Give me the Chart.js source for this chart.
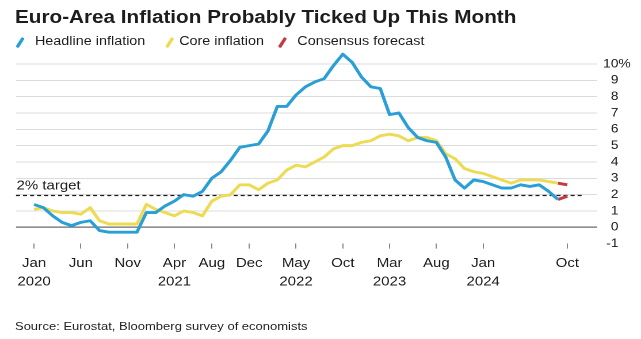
<!DOCTYPE html>
<html>
<head>
<meta charset="utf-8">
<script src="https://cdn.jsdelivr.net/npm/chart.js@4.4.1/dist/chart.umd.min.js"></script>
<style>
  html, body { margin: 0; padding: 0; background: #fff; overflow: hidden; }
  #wrap { position: absolute; left: 0; top: 0; width: 557px; height: 339px; transform: scaleX(1.1508); transform-origin: 0 0; font-family: "Liberation Sans", Arial, sans-serif; color: #1c1c1c; }
  #title { position: absolute; left: 13px; top: 7.5px; font-size: 18px; line-height: 18px; font-weight: bold; white-space: nowrap; }
  .lg { position: absolute; top: 35.4px; font-size: 12.5px; line-height: 12.5px; white-space: nowrap; }
  .ic { position: absolute; top: 36.5px; width: 2.7px; height: 11px; transform: rotate(29deg); border-radius: 1px; }
  #src { position: absolute; left: 13px; top: 321px; font-size: 11.3px; line-height: 11.3px; white-space: nowrap; color: #222; }
  #c { position: absolute; left: 0; top: 0; width: 557px; height: 339px; }
</style>
</head>
<body>
<div id="wrap">
  <canvas id="c" width="557" height="339"></canvas>
  <div id="title">Euro-Area Inflation Probably Ticked Up This Month</div>
  <div class="ic" style="left:15.8px;background:#2a9fd6"></div>
  <div class="lg" style="left:30.4px">Headline inflation</div>
  <div class="ic" style="left:145.5px;background:#eedb55"></div>
  <div class="lg" style="left:155.7px">Core inflation</div>
  <div class="ic" style="left:244.3px;background:#c23b45"></div>
  <div class="lg" style="left:258.3px">Consensus forecast</div>
  <div id="src">Source: Eurostat, Bloomberg survey of economists</div>
</div>
<script>
// month index 0 = Jan 2020
const TICK_IDX = [0, 5, 10, 15, 19, 23, 28, 33, 38, 43, 48, 57];
const TICK_LABELS = [['Jan', '2020'], 'Jun', 'Nov', ['Apr', '2021'], 'Aug', 'Dec', ['May', '2022'], 'Oct', ['Mar', '2023'], 'Aug', ['Jan', '2024'], 'Oct'];
const Y_TICKS = [-1, 0, 1, 2, 3, 4, 5, 6, 7, 8, 9, 10];
const TARGET = 2;

const HEADLINE = [
  1.4, 1.2, 0.7, 0.3, 0.1, 0.3, 0.4, -0.2, -0.3, -0.3, -0.3, -0.3,
  0.9, 0.9, 1.3, 1.6, 2.0, 1.9, 2.2, 3.0, 3.4, 4.1, 4.9, 5.0,
  5.1, 5.9, 7.4, 7.4, 8.1, 8.6, 8.9, 9.1, 9.9, 10.6, 10.1, 9.2,
  8.6, 8.5, 6.9, 7.0, 6.1, 5.5, 5.3, 5.2, 4.3, 2.9, 2.4, 2.9,
  2.8, 2.6, 2.4, 2.4, 2.6, 2.5, 2.6, 2.2, 1.7];
const CORE = [
  1.1, 1.2, 1.0, 0.9, 0.9, 0.8, 1.2, 0.4, 0.2, 0.2, 0.2, 0.2,
  1.4, 1.1, 0.9, 0.7, 1.0, 0.9, 0.7, 1.6, 1.9, 2.0, 2.6, 2.6,
  2.3, 2.7, 2.9, 3.5, 3.8, 3.7, 4.0, 4.3, 4.8, 5.0, 5.0, 5.2,
  5.3, 5.6, 5.7, 5.6, 5.3, 5.5, 5.5, 5.3, 4.5, 4.2, 3.6, 3.4,
  3.3, 3.1, 2.9, 2.7, 2.9, 2.9, 2.9, 2.8, 2.7];
// Sep 2024 actual -> Oct 2024 consensus
const FC_IDX = [56, 57];
const FC_HEADLINE = [1.7, 1.9];
const FC_CORE = [2.7, 2.6];

const FONT = '"Liberation Sans", Arial, sans-serif';
const pts = (vals, start = 0) => vals.map((v, i) => ({ x: start + i, y: v }));
const line = (data, color) => ({ data, borderColor: color, borderWidth: 2.9, pointRadius: 0, tension: 0, borderJoinStyle: 'round', borderCapStyle: 'butt', clip: false });

const extras = {
  id: 'extras',
  beforeDatasetsDraw(chart) {
    const { ctx, chartArea: a, scales: { y } } = chart;
    const py = Math.round(y.getPixelForValue(TARGET)) + 0.5;
    ctx.save();
    ctx.strokeStyle = '#1c1c1c';
    ctx.lineWidth = 1.3;
    ctx.setLineDash([3.5, 2.6]);
    ctx.beginPath(); ctx.moveTo(a.left, py); ctx.lineTo(a.right - 12, py); ctx.stroke();
    ctx.setLineDash([]);
    ctx.fillStyle = '#1c1c1c';
    ctx.font = '13px ' + FONT;
    ctx.textBaseline = 'alphabetic';
    ctx.fillText(TARGET + '% target', a.left + 0.5, py - 6);
    ctx.restore();
  },
  afterDraw(chart) {
    const { ctx, scales: { y } } = chart;
    ctx.save();
    ctx.font = '12px ' + FONT;
    ctx.fillStyle = '#1c1c1c';
    ctx.textBaseline = 'middle';
    ctx.fillText('%', y.right, y.getPixelForValue(Y_TICKS[Y_TICKS.length - 1]));
    ctx.restore();
  }
};

new Chart(document.getElementById('c'), {
  type: 'line',
  data: {
    datasets: [
      line(pts(HEADLINE), '#2a9fd6'),
      line(pts(CORE), '#eedb55'),
      line(FC_IDX.map((x, i) => ({ x, y: FC_HEADLINE[i] })), '#c23b45'),
      line(FC_IDX.map((x, i) => ({ x, y: FC_CORE[i] })), '#c23b45'),
    ],
  },
  options: {
    responsive: false,
    animation: false,
    devicePixelRatio: 2,
    layout: { padding: { left: 13.9, top: 64, right: 19.6, bottom: 45.4 } },
    plugins: { legend: { display: false }, tooltip: { enabled: false } },
    scales: {
      x: {
        type: 'linear', min: -1.93, max: 60.2,
        afterBuildTicks: (s) => { s.ticks = TICK_IDX.map((v) => ({ value: v })); },
        afterFit: (s) => { s.height = 50; },
        ticks: { autoSkip: false, maxRotation: 0, padding: 5.3, color: '#1c1c1c', font: { family: FONT, size: 13, lineHeight: 1.43 }, callback: (v, i) => TICK_LABELS[i] },
        grid: { drawOnChartArea: false, drawTicks: true, tickLength: 5, color: '#888', lineWidth: 1 },
        border: { display: false },
      },
      y: {
        position: 'right', min: -1, max: 10,
        afterBuildTicks: (s) => { s.ticks = Y_TICKS.map((v) => ({ value: v })); },
        afterFit: (s) => { s.width = 18.4; },
        ticks: { autoSkip: false, padding: 5.1, crossAlign: 'far', color: '#1c1c1c', font: { family: FONT, size: 12 }, callback: (v) => String(v) },
        grid: {
          drawTicks: false,
          color: (c) => c.tick.value === 0 ? '#6a6a6a' : c.tick.value === -1 ? 'rgba(0,0,0,0)' : '#dcdcdc',
          lineWidth: (c) => c.tick.value === 0 ? 1.3 : 1,
        },
        border: { display: false },
      },
    },
  },
  plugins: [extras],
});
</script>
</body>
</html>
